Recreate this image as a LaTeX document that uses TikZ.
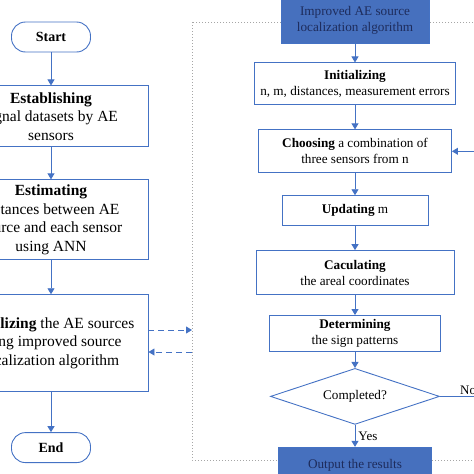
\documentclass[tikz,border=0pt]{standalone}
\usepackage{fontspec}
\setmainfont{Liberation Serif}
\usepackage{tikz}
\usetikzlibrary{arrows.meta}
\usetikzlibrary{positioning}
\usetikzlibrary{shapes.geometric}
\usetikzlibrary{calc}

\definecolor{lineblue}{RGB}{68,114,196}
\definecolor{fillblue}{RGB}{70,112,190}
\definecolor{darknavy}{RGB}{30,44,92}

\tikzset{
  base/.style={draw=lineblue, line width=0.9pt, align=center, inner sep=2pt,
    font=\fontsize{13.2}{16}\selectfont},
  term/.style={base, rounded corners=14pt, minimum width=79pt, minimum height=30pt,
    font=\fontsize{14}{16}\selectfont},
  lbox/.style={base, minimum width=194pt, font=\fontsize{15.5}{18.5}\selectfont},
  rbox/.style={base},
  hbox/.style={base, fill=fillblue, text=darknavy},
  check/.style={base, diamond, aspect=3, minimum width=169pt, minimum height=56pt, inner sep=0pt},
  lbl/.style={font=\fontsize{13}{15}\selectfont, inner sep=3pt},
  flow/.style={-{Triangle[length=6pt,width=7pt]}, color=lineblue, line width=0.9pt},
  dflow/.style={flow, dash pattern=on 6pt off 4pt},
  frame/.style={draw=gray!70, line width=0.8pt, dash pattern=on 0.8pt off 2.2pt}
}

\begin{document}
\begin{tikzpicture}[x=1pt, y=-1pt]
        \useasboundingbox (0,0) rectangle (474,474);
        \clip (0,0) rectangle (474,474);

        % dotted frame round the algorithm
        \draw[frame] (192,22) rectangle (520,460);

        % main flow
        \node[term] (start) at (51,37) {\textbf{Start}};
        \node[lbox, minimum height=61pt] (estab) [below=33pt of start]
            {\textbf{Establishing}\\ signal datasets by AE\\ sensors};
        \node[lbox, minimum height=80pt] (estim) [below=32pt of estab]
            {\textbf{Estimating}\\ distances between AE\\ source and each sensor\\ using ANN};
        \node[lbox, minimum height=97pt] (local) [below=34pt of estim]
            {\textbf{Localizing} the AE sources\\ using improved source\\ localization algorithm};
        \node[term] (end) [below=40pt of local] {\textbf{End}};

        % algorithm
        \node[hbox, minimum width=148pt, minimum height=45pt] (algo) at (355,20.5)
            {Improved AE source\\ localization algorithm};
        \node[rbox, minimum width=201pt, minimum height=42pt] (init) [below=19pt of algo]
            {\textbf{Initializing}\\ n, m, distances, measurement errors};
        \node[rbox, minimum width=193pt, minimum height=43pt] (choose) [below=24pt of init]
            {\textbf{Choosing} a combination of\\ three sensors from n};
        \node[rbox, minimum width=146pt, minimum height=30pt] (update) [below=22pt of choose]
            {\textbf{Updating} m};
        \node[rbox, minimum width=198pt, minimum height=44pt] (calc) [below=24pt of update]
            {\textbf{Caculating}\\ the areal coordinates};
        \node[rbox, minimum width=171pt, minimum height=36pt] (determ) [below=20pt of calc]
            {\textbf{Determining}\\ the sign patterns};
        \node[check] (done) [below=16pt of determ] {Completed?};
        \node[hbox, minimum width=153pt, minimum height=37pt] (output) [below=22pt of done]
            {Output the results};

        \coordinate (f1) at (192,330);
        \coordinate (f2) at (192,352);

        \path[flow] (start) edge (estab)
                    (estab) edge (estim)
                    (estim) edge (local)
                    (local) edge (end);
        \draw[dflow] (local.east |- f1) -- (f1);
        \draw[dflow] (f2) -- (local.east |- f2);

        \path[flow] (algo) edge (init)
                    (init) edge (choose)
                    (choose) edge (update)
                    (update) edge (calc)
                    (calc) edge (determ)
                    (determ) edge (done);
        \draw[flow] (done) -- node[right, lbl, text=black] {Yes} (output);
        \draw[flow] (done.east) -- node[above, lbl, text=black, pos=0.47, inner sep=1pt] {No}
            ++(60,0) |- (choose.east);
\end{tikzpicture}
\end{document}
